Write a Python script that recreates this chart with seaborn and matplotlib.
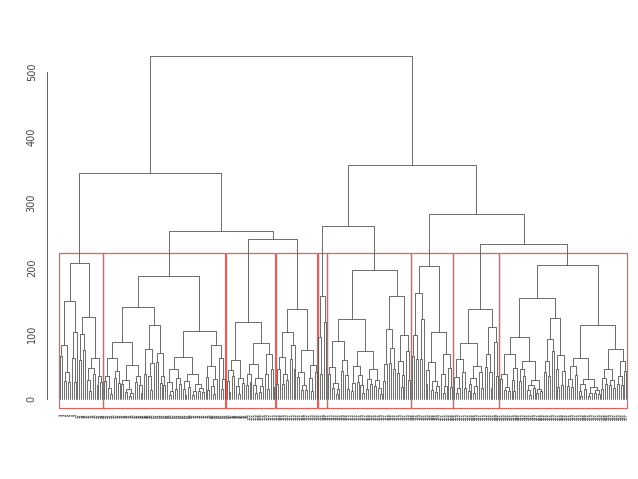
import matplotlib
matplotlib.use("Agg")
import matplotlib.pyplot as plt
import seaborn as sns
import pandas as pd

# top-level merges (height of each merge)
root_h = 524
left_h, right_h = 345, 357
B_h, D_h = 257, 245
E_h, F_h, H_h = 265, 282, 236
# the 9 clusters cut by the red boxes: (leaf count, top merge height)
cluster_names = ["c1", "c2", "c3", "c4", "c5", "c6", "c7", "c8", "c9"]
cluster_leaves = [23, 64, 26, 22, 5, 44, 22, 24, 67]
cluster_heights = [208, 188, 118, 137, 157, 197, 203, 137, 205]
cut_height = 223
split_fracs = [0.42, 0.55, 0.33, 0.6, 0.48, 0.38, 0.52, 0.65]
height_fracs = [0.72, 0.55, 0.8, 0.6, 0.68, 0.5, 0.75, 0.62]

state = {"i": 0}
def build(n, h):
    if n == 1:
        return None
    k = state["i"]; state["i"] += 1
    nl = max(1, min(n - 1, round(n * split_fracs[k % len(split_fracs)])))
    hl = h * height_fracs[k % len(height_fracs)]
    hr = h * height_fracs[(k + 3) % len(height_fracs)]
    if n <= 3:
        hl, hr = h * 0.5, h * 0.4
    return (h, build(nl, hl), build(n - nl, hr))

cl = [build(n, h) for n, h in zip(cluster_leaves, cluster_heights)]
tree = (root_h,
        (left_h, cl[0], (B_h, cl[1], (D_h, cl[2], cl[3]))),
        (right_h, (E_h, cl[4], cl[5]), (F_h, cl[6], (H_h, cl[7], cl[8]))))

segs = []
pos = {"x": 0}
def draw(node):
    if node is None:
        x = pos["x"]; pos["x"] += 1
        return x, 0.0
    h, l, r = node
    xl, yl = draw(l); xr, yr = draw(r)
    sid = len(segs)
    segs.append([(xl, yl), (xl, h), (xr, h), (xr, yr)])
    return (xl + xr) / 2, h
draw(tree)
N = pos["x"]

rows = []
for sid, pts in enumerate(segs):
    for o, (x, y) in enumerate(pts):
        rows.append({"x": x, "y": y, "seg": sid, "o": o})
df = pd.DataFrame(rows)

sns.set_style("white")
fig = plt.figure(figsize=(6.38, 4.79), dpi=100)
ax = fig.add_axes([0.074, 0.14, 0.914, 0.792])
sns.lineplot(data=df, x="x", y="y", units="seg", estimator=None, sort=False,
             color="#555555", linewidth=0.6, ax=ax)

# red boxes
start = 0
for n in cluster_leaves:
    ax.add_patch(plt.Rectangle((start - 0.4, -14), n - 0.2, cut_height + 14,
                               fill=False, edgecolor="#e06060", linewidth=0.9))
    start += n

pxper = 566 / (N - 1)
ax.set_xlim(-13 / pxper, N - 1 + 4 / pxper)
ax.set_ylim(-20, 560)
ax.set_xticks(range(N))
ax.set_xticklabels([str(i + 1) for i in range(N)], rotation=90, fontsize=2.5)
ax.tick_params(axis="x", length=0, pad=1)
ax.set_yticks([0, 100, 200, 300, 400, 500])
ax.set_yticklabels(["0", "100", "200", "300", "400", "500"], rotation=90,
                   va="center", fontsize=7, color="#444444")
ax.tick_params(axis="y", length=4, color="#444444", width=0.6)
for s in ["top", "right", "bottom"]:
    ax.spines[s].set_visible(False)
ax.spines["left"].set_bounds(0, 500)
ax.spines["left"].set_color("#444444")
ax.spines["left"].set_linewidth(0.6)
ax.set_xlabel(""); ax.set_ylabel("")
fig.savefig("out.png", dpi=100)
